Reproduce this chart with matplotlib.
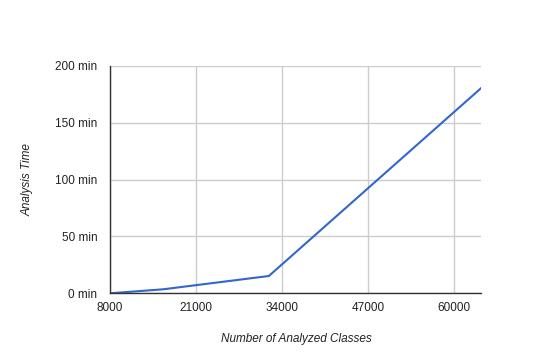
import matplotlib
matplotlib.use("Agg")
import matplotlib.pyplot as plt

# data
classes = [8000, 16000, 32000, 64000]
minutes = [0, 3.5, 15.2, 180]
x_ticks = [8000, 21000, 34000, 47000, 60000]
y_ticks = [0, 50, 100, 150, 200]
y_tick_labels = [f"{v} min" for v in y_ticks]

plt.rcParams['font.family'] = ['Liberation Sans', 'DejaVu Sans']

fig = plt.figure(figsize=(5.45, 3.59), dpi=100)
W, H = 545, 359
ax = fig.add_axes([110 / W, 1 - 293.3 / H, (480.7 - 110) / W, (293.3 - 65.7) / H])

ax.plot(classes, minutes, color='#3366cc', linewidth=1.5, zorder=3)

ax.set_xlim(8000, 64000)
ax.set_ylim(0, 200)
ax.set_xticks(x_ticks)
ax.set_xticklabels([str(v) for v in x_ticks], fontsize=8.5, color='#222222')
ax.set_yticks(y_ticks)
ax.set_yticklabels(y_tick_labels, fontsize=8.5, color='#222222')
ax.tick_params(axis='x', length=0, pad=6)
ax.tick_params(axis='y', length=0, pad=9)

ax.grid(True, color='#cccccc', linewidth=1)
ax.set_axisbelow(True)
for side in ['top', 'right']:
    ax.spines[side].set_visible(False)
for side in ['left', 'bottom']:
    ax.spines[side].set_color('#333333')
    ax.spines[side].set_linewidth(1)
    ax.spines[side].set_zorder(4)

fig.text(296 / W, 1 - 339 / H, 'Number of Analyzed Classes', ha='center', va='center',
         fontsize=8.5, style='italic', color='#222222')
fig.text(28 / W, 1 - 180 / H, 'Analysis Time', ha='center', va='center',
         fontsize=8.5, style='italic', color='#222222', rotation=90)

fig.savefig('out.png', dpi=100)
